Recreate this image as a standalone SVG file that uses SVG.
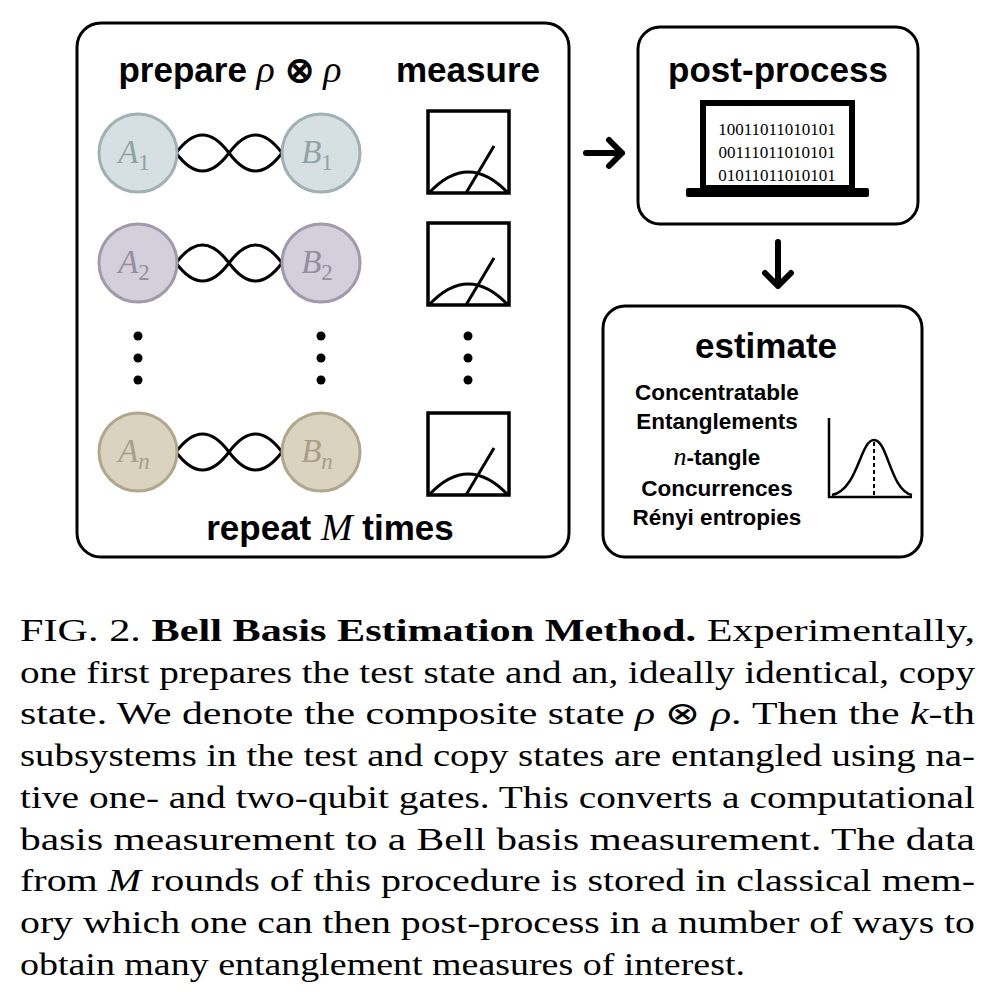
<svg xmlns="http://www.w3.org/2000/svg" width="990" height="992" viewBox="0 0 990 992">
<style>
.box{fill:#fff;stroke:#000;stroke-width:3}
.h{font-family:"Liberation Sans",Arial,sans-serif;font-weight:bold;font-size:35px;text-anchor:middle}
.l{font-family:"Liberation Sans",Arial,sans-serif;font-weight:bold;font-size:22.5px;text-anchor:middle}
.m{font-family:"Liberation Serif","Times New Roman",serif;font-style:italic}
.q{font-family:"Liberation Serif",serif;font-style:italic;font-size:33px;text-anchor:middle}
.wig{fill:none;stroke:#000;stroke-width:3}
.meter rect{fill:#fff;stroke:#000;stroke-width:3.5}
.meter path{fill:none;stroke:#000;stroke-width:3}
.cap{font-family:"Liberation Serif","Times New Roman",serif;font-size:31px}
.bin{font-family:"Liberation Serif",serif;font-size:17px;text-anchor:middle}
.dot{fill:#000}
</style>
<defs>
<path id="wg" class="wig" d="M0,0 C18,-24 35,-24 53,0 C71,24 88,24 106,0 M0,0 C18,24 35,24 53,0 C71,-24 88,-24 106,0"/>
<g id="meter" class="meter"><rect x="0" y="0" width="81" height="82"/><path d="M1,82 Q40,40 80,82 M38,82 L66,35"/></g>
</defs>
<g id="prepare-box">
<rect class="box" x="77" y="23" width="492" height="534" rx="24"/>
<text class="h" x="230" y="82">prepare <tspan class="m" font-weight="normal" font-size="38">ρ</tspan> ⊗ <tspan class="m" font-weight="normal" font-size="38">ρ</tspan></text>
<text class="h" x="468" y="82">measure</text>
<text class="h" x="330" y="540">repeat <tspan class="m" font-weight="normal" font-size="38">M</tspan> times</text>
</g>
<g id="row1">
<use href="#wg" x="176" y="153"/>
<circle cx="138" cy="153" r="39" fill="#d6e0e3" stroke="#9fb1b2" stroke-width="3"/>
<circle cx="321" cy="153" r="39" fill="#d6e0e3" stroke="#9fb1b2" stroke-width="3"/>
<text class="q" x="134" y="163" fill="#8fa3a5">A<tspan font-style="normal" font-size="23" dy="7">1</tspan></text>
<text class="q" x="317" y="163" fill="#8fa3a5">B<tspan font-style="normal" font-size="23" dy="7">1</tspan></text>
<use href="#meter" x="428" y="111"/>
</g>
<g id="row2">
<use href="#wg" x="176" y="263"/>
<circle cx="138" cy="263" r="39" fill="#d3cfdb" stroke="#a09aab" stroke-width="3"/>
<circle cx="321" cy="263" r="39" fill="#d3cfdb" stroke="#a09aab" stroke-width="3"/>
<text class="q" x="134" y="273" fill="#948ea0">A<tspan font-style="normal" font-size="23" dy="7">2</tspan></text>
<text class="q" x="317" y="273" fill="#948ea0">B<tspan font-style="normal" font-size="23" dy="7">2</tspan></text>
<use href="#meter" x="428" y="223"/>
</g>
<g id="dots">
<circle class="dot" cx="138" cy="336" r="4.5"/><circle class="dot" cx="138" cy="358" r="4.5"/><circle class="dot" cx="138" cy="380" r="4.5"/>
<circle class="dot" cx="321" cy="336" r="4.5"/><circle class="dot" cx="321" cy="358" r="4.5"/><circle class="dot" cx="321" cy="380" r="4.5"/>
<circle class="dot" cx="468" cy="336" r="4.5"/><circle class="dot" cx="468" cy="358" r="4.5"/><circle class="dot" cx="468" cy="380" r="4.5"/>
</g>
<g id="rown">
<use href="#wg" x="176" y="452"/>
<circle cx="138" cy="452" r="39" fill="#d9d3c0" stroke="#b0a78c" stroke-width="3"/>
<circle cx="321" cy="452" r="39" fill="#d9d3c0" stroke="#b0a78c" stroke-width="3"/>
<text class="q" x="134" y="462" fill="#a89f85">A<tspan font-size="23" dy="7">n</tspan></text>
<text class="q" x="317" y="462" fill="#a89f85">B<tspan font-size="23" dy="7">n</tspan></text>
<use href="#meter" x="428" y="413"/>
</g>
<g id="post-process">
<rect class="box" x="638" y="27" width="280" height="197" rx="22"/>
<text class="h" x="778" y="82">post-process</text>
<rect x="703" y="103" width="149" height="85" fill="#fff" stroke="#000" stroke-width="6"/>
<rect x="686" y="188" width="183" height="9" rx="2" fill="#000"/>
<text class="bin" x="777" y="135">10011011010101</text>
<text class="bin" x="777" y="158">00111011010101</text>
<text class="bin" x="777" y="181">01011011010101</text>
</g>
<g id="estimate">
<rect class="box" x="603" y="306" width="319" height="251" rx="22"/>
<text class="h" x="766" y="358">estimate</text>
<text class="l" x="717" y="400">Concentratable</text>
<text class="l" x="717" y="429">Entanglements</text>
<text class="l" x="717" y="465"><tspan class="m" font-weight="normal" font-size="26">n</tspan>-tangle</text>
<text class="l" x="717" y="496">Concurrences</text>
<text class="l" x="717" y="525">Rényi entropies</text>
<path d="M829,418 V497 H912" fill="none" stroke="#000" stroke-width="2.5"/>
<path d="M832,495 C858,490 860,440 874,440 C888,440 890,490 912,495" fill="none" stroke="#000" stroke-width="2.5"/>
<path d="M874,442 V497" stroke="#000" stroke-width="2" stroke-dasharray="4,3"/>
</g>
<g id="connectors" fill="none" stroke="#000" stroke-width="6" stroke-linecap="round" stroke-linejoin="round">
<path d="M586,153 H622 M609,140 L622,153 L609,166"/>
<path d="M778,242 V286 M765,273 L778,286 L791,273"/>
</g>
<g id="caption" class="cap">
<text x="20" y="641" textLength="955" lengthAdjust="spacingAndGlyphs">FIG. 2. <tspan font-weight="bold">Bell Basis Estimation Method.</tspan> Experimentally,</text>
<text x="20" y="683" textLength="955" lengthAdjust="spacingAndGlyphs">one first prepares the test state and an, ideally identical, copy</text>
<text x="20" y="724" textLength="955" lengthAdjust="spacingAndGlyphs">state.  We denote the composite state <tspan font-style="italic">ρ</tspan> ⊗ <tspan font-style="italic">ρ</tspan>.  Then the <tspan font-style="italic">k</tspan>-th</text>
<text x="20" y="766" textLength="955" lengthAdjust="spacingAndGlyphs">subsystems in the test and copy states are entangled using na-</text>
<text x="20" y="808" textLength="955" lengthAdjust="spacingAndGlyphs">tive one- and two-qubit gates.  This converts a computational</text>
<text x="20" y="850" textLength="955" lengthAdjust="spacingAndGlyphs">basis measurement to a Bell basis measurement.  The data</text>
<text x="20" y="891" textLength="955" lengthAdjust="spacingAndGlyphs">from <tspan font-style="italic">M</tspan> rounds of this procedure is stored in classical mem-</text>
<text x="20" y="933" textLength="955" lengthAdjust="spacingAndGlyphs">ory which one can then post-process in a number of ways to</text>
<text x="20" y="975" textLength="725" lengthAdjust="spacingAndGlyphs">obtain many entanglement measures of interest.</text>
</g>
</svg>
